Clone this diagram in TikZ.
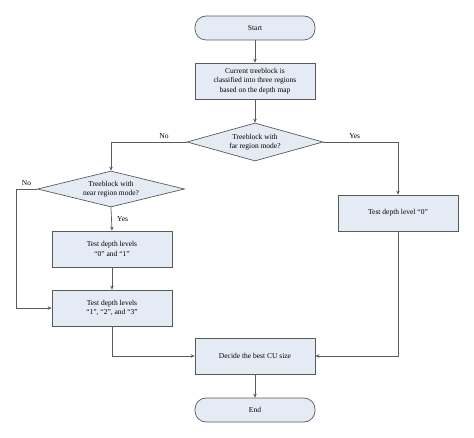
\documentclass[tikz,border=0pt]{standalone}
\usepackage{fontspec}
\setmainfont{Liberation Serif}
\usepackage{tikz}
\usetikzlibrary{shapes.geometric}
\usetikzlibrary{arrows.meta}
\definecolor{boxfill}{HTML}{E5EBF5}
\definecolor{boxline}{HTML}{5A5A5A}
\tikzstyle{procbox}=[
    draw=boxline,
    fill=boxfill,
    line width=0.7pt,
    minimum width=120pt,
    minimum height=36pt,
    inner sep=1pt,
    align=center,
    font=\fontsize{7.5}{9.5}\selectfont
]
\tikzstyle{termbox}=[
    procbox,
    minimum height=24pt,
    rounded corners=11pt
]
\tikzstyle{decision}=[
    diamond,
    shape aspect=4,
    draw=boxline,
    fill=boxfill,
    line width=0.7pt,
    inner sep=0pt,
    align=center,
    font=\fontsize{7.5}{9.5}\selectfont
]
\tikzstyle{flow}=[
    draw=boxline,
    line width=0.7pt,
    -{Stealth[length=4pt,width=3.5pt]}
]
\tikzstyle{lbl}=[font=\fontsize{7.5}{9.5}\selectfont]

\begin{document}
\begin{tikzpicture}[x=1pt,y=-1pt]
        \useasboundingbox (0,0) rectangle (474,438);

        % boxes
        \node[termbox] (start) at (255,28) {Start};
        \node[procbox] (classify) at (255,81) {Current treeblock is\\classified into three regions\\based on the depth map};
        \node[decision, minimum width=136pt, minimum height=38pt] (far) at (255,142) {Treeblock with\\far region mode?};
        \node[decision, minimum width=147pt, minimum height=36pt] (near) at (111,189) {Treeblock with\\near region mode?};
        \node[procbox] (lvlA) at (112,249) {Test depth levels\\``0'' and ``1''};
        \node[procbox] (lvlB) at (112,308) {Test depth levels\\``1'', ``2'', and ``3''};
        \node[procbox] (lvlC) at (398,213) {Test depth level ``0''};
        \node[procbox] (decide) at (255,356) {Decide the best CU size};
        \node[termbox] (stop) at (255,410) {End};

        % connectors
        \draw[flow] (start) -- (classify);
        \draw[flow] (classify) -- (far);
        \draw[flow] (far.west) -| (near.north) node[lbl, pos=0.15, above] {No};
        \draw[flow] (far.east) -| (lvlC.north) node[lbl, pos=0.21, above] {Yes};
        \draw[flow] (near.south) -- (lvlA.north) node[lbl, midway, right, xshift=2pt] {Yes};
        \draw[flow] (lvlA) -- (lvlB);
        \coordinate (bypass) at (16,189);
        \draw[flow] (near.west) -- (bypass) node[lbl, midway, above] {No} |- (lvlB.west);
        \draw[flow] (lvlB.south) |- (decide.west);
        \draw[flow] (lvlC.south) |- (decide.east);
        \draw[flow] (decide) -- (stop);

\end{tikzpicture}
\end{document}
